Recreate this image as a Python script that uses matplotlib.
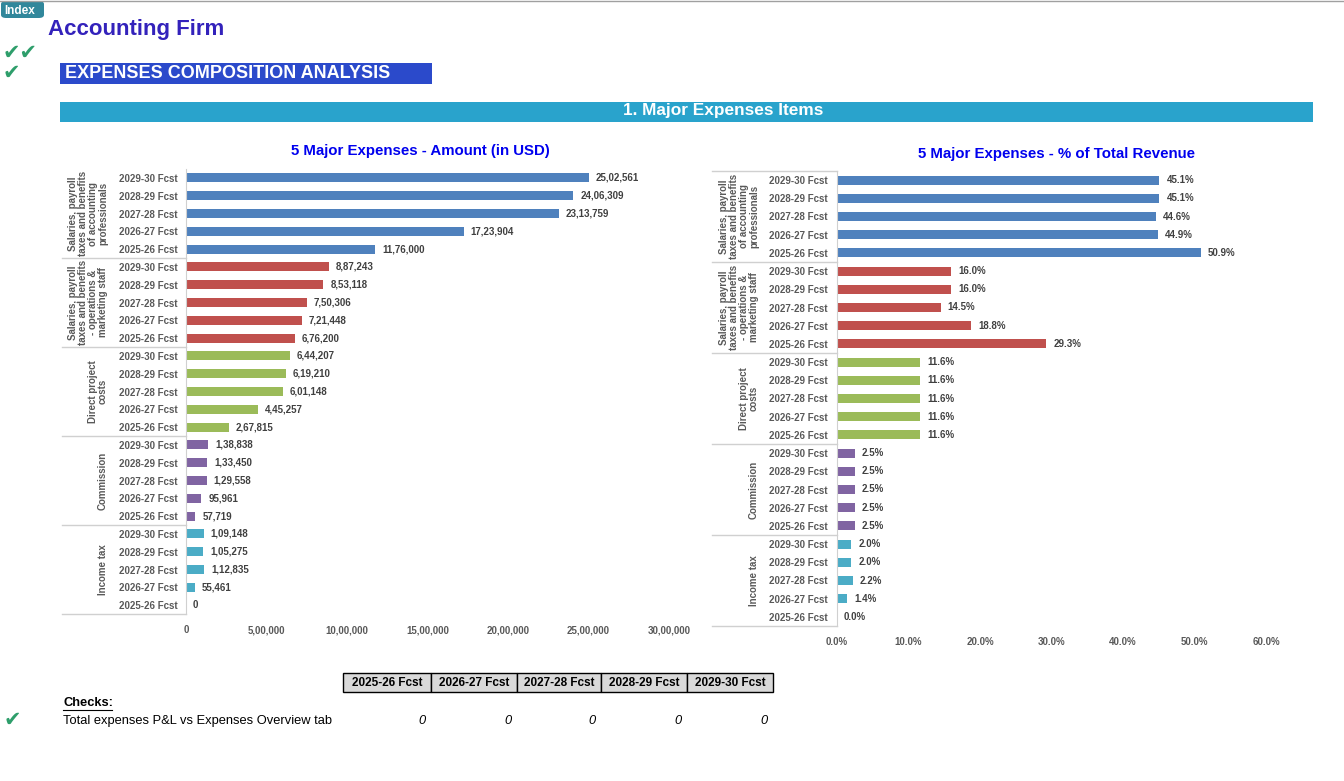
import matplotlib
matplotlib.use("Agg")
import matplotlib.pyplot as plt
from matplotlib.patches import Rectangle, FancyBboxPatch
from matplotlib.lines import Line2D
from matplotlib.ticker import FuncFormatter
from matplotlib.transforms import blended_transform_factory

plt.rcParams['font.family'] = ['Liberation Sans', 'DejaVu Sans']

# ---- data ----
years = ["2025-26 Fcst", "2026-27 Fcst", "2027-28 Fcst", "2028-29 Fcst", "2029-30 Fcst"]
groups = [
    "Salaries, payroll\ntaxes and benefits\nof accounting\nprofessionals",
    "Salaries, payroll\ntaxes and benefits\n- operations &\nmarketing staff",
    "Direct project\ncosts",
    "Commission",
    "Income tax",
]
colors = ["#4F81BD", "#C0504D", "#9BBB59", "#8064A2", "#4BACC6"]

# amounts in USD, ordered 2025-26 .. 2029-30
sal_acc_amt = [1176000, 1723904, 2313759, 2406309, 2502561]
sal_ops_amt = [676200, 721448, 750306, 853118, 887243]
direct_amt = [267815, 445257, 601148, 619210, 644207]
commission_amt = [57719, 95961, 129558, 133450, 138838]
income_tax_amt = [0, 55461, 112835, 105275, 109148]

# % of total revenue, ordered 2025-26 .. 2029-30
sal_acc_pct = [50.9, 44.9, 44.6, 45.1, 45.1]
sal_ops_pct = [29.3, 18.8, 14.5, 16.0, 16.0]
direct_pct = [11.6, 11.6, 11.6, 11.6, 11.6]
commission_pct = [2.5, 2.5, 2.5, 2.5, 2.5]
income_tax_pct = [0.0, 1.4, 2.2, 2.0, 2.0]

amounts = [sal_acc_amt, sal_ops_amt, direct_amt, commission_amt, income_tax_amt]
percents = [sal_acc_pct, sal_ops_pct, direct_pct, commission_pct, income_tax_pct]

check_values = [0, 0, 0, 0, 0]

W, H = 1344, 781
LABEL = "#404040"
TICK = "#595959"
LINE = "#D0D0D0"
GREEN = "#2E9E6B"


def inr(v, pos=None):
    s = str(int(round(v)))
    if len(s) <= 3:
        return s
    head, tail = s[:-3], s[-3:]
    parts = []
    while len(head) > 2:
        parts.insert(0, head[-2:])
        head = head[:-2]
    if head:
        parts.insert(0, head)
    return ",".join(parts) + "," + tail


def fx(px):
    return px / W


def fy(py):
    return 1 - py / H


def add_axes_px(left, top, right, bottom):
    return fig.add_axes([fx(left), fy(bottom), (right - left) / W, (bottom - top) / H])


def draw_chart(ax, data, xmax, step, fmt, label_fmt, sep_x0, grp_x, tick_pad, top_line):
    n = len(years)
    ypos, ylabels = [], []
    for g, vals in enumerate(data):
        ys = [g * n + (n - 1 - j) for j in range(n)]
        ax.barh(ys, vals, height=0.5, color=colors[g])
        for y, v in zip(ys, vals):
            ax.annotate(label_fmt(v), (v, y), xytext=(5, 0), textcoords="offset points",
                        va="center", ha="left", fontsize=7, fontweight="bold", color=LABEL)
        ypos += ys
        ylabels += [years[j] for j in range(n)]
    ax.set_ylim(len(groups) * n - 0.5, -0.5)
    ax.set_xlim(0, xmax)
    ax.set_yticks(ypos)
    ax.set_yticklabels(ylabels)
    ax.set_xticks([i * step for i in range(int(round(xmax / step)) + 1)])
    ax.xaxis.set_major_formatter(FuncFormatter(fmt))
    ax.tick_params(axis="y", length=0, pad=tick_pad, labelsize=7, labelcolor=TICK)
    ax.tick_params(axis="x", length=0, pad=8, labelsize=7, labelcolor=TICK)
    for lbl in ax.get_xticklabels() + ax.get_yticklabels():
        lbl.set_fontweight("bold")
    for s in ["top", "right", "bottom"]:
        ax.spines[s].set_visible(False)
    ax.spines["left"].set_color(LINE)

    tr = blended_transform_factory(ax.transAxes, ax.transData)
    bounds = [g * n - 0.5 for g in range(len(groups) + 1)]
    for i, b in enumerate(bounds):
        if i == 0 and not top_line:
            continue
        ax.add_line(Line2D([sep_x0, 0], [b, b], transform=tr, color=LINE, lw=1, clip_on=False))
    for g, name in enumerate(groups):
        ax.text(grp_x, g * n + (n - 1) / 2, name, transform=tr, rotation=90, ha="right",
                va="center", multialignment="center", fontsize=7, fontweight="bold",
                color=TICK, linespacing=1.0)


fig = plt.figure(figsize=(W / 100, H / 100), dpi=100)

# ---- header ----
fig.add_artist(Line2D([fx(0), fx(W)], [fy(0.5), fy(0.5)], color="#A0A0A0", lw=1))
fig.add_artist(FancyBboxPatch((fx(1), fy(18)), fx(43), 17 / H,
                              boxstyle="round,pad=0,rounding_size=0.004",
                              facecolor="#31879B", edgecolor="none"))
fig.text(fx(20), fy(10.5), "Index", ha="center", va="center", color="white",
         fontsize=8.5, fontweight="bold")
fig.text(fx(48), fy(29), "Accounting Firm", ha="left", va="center", color="#3322BB",
         fontsize=16, fontweight="bold")
fig.text(fx(3), fy(53), "\u2714\u2714", ha="left", va="center", color=GREEN,
         fontsize=15, family=["DejaVu Sans"])
fig.text(fx(3), fy(73), "\u2714", ha="left", va="center", color=GREEN,
         fontsize=15, family=["DejaVu Sans"])
fig.add_artist(Rectangle((fx(60), fy(84)), fx(372), 21 / H, facecolor="#2B4ACB",
                         edgecolor="none"))
fig.text(fx(65), fy(74), "EXPENSES COMPOSITION ANALYSIS", ha="left", va="center",
         color="white", fontsize=13, fontweight="bold")
fig.add_artist(Rectangle((fx(60), fy(122)), fx(1253), 20 / H, facecolor="#29A3CC",
                         edgecolor="none"))
fig.text(fx(723), fy(111), "1. Major Expenses Items", ha="center", va="center",
         color="white", fontsize=12.4, fontweight="bold")

fig.text(fx(420), fy(151), "5 Major Expenses - Amount (in USD)", ha="center", va="center",
         color="#0000EE", fontsize=10.8, fontweight="bold")
fig.text(fx(1057), fy(154), "5 Major Expenses - % of Total Revenue", ha="center",
         va="center", color="#0000EE", fontsize=10.8, fontweight="bold")

# ---- charts ----
ax1 = add_axes_px(186, 169, 669, 614)
draw_chart(ax1, amounts, 3000000, 500000, inr, inr,
           sep_x0=(62 - 186) / 483, grp_x=(108 - 186) / 483, tick_pad=6, top_line=False)

ax2 = add_axes_px(837, 171, 1266, 626)
draw_chart(ax2, percents, 60, 10, lambda v, p=None: f"{v:.1f}%", lambda v: f"{v:.1f}%",
           sep_x0=(712 - 837) / 429, grp_x=(759 - 837) / 429, tick_pad=7, top_line=True)

# ---- checks table ----
cell_edges = [343, 431, 517, 601, 687, 773]
for i, yr in enumerate(years):
    x0, x1 = cell_edges[i], cell_edges[i + 1]
    fig.add_artist(Rectangle((fx(x0), fy(692)), (x1 - x0) / W, 19 / H, facecolor="#D9D9D9",
                             edgecolor="black", lw=1))
    fig.text(fx((x0 + x1) / 2), fy(682.5), yr, ha="center", va="center", fontsize=8.5,
             fontweight="bold")
    fig.text(fx(x1 - 5), fy(721), str(check_values[i]), ha="right", va="center",
             fontsize=9.3, style="italic")

fig.text(fx(63), fy(703), "Checks:", ha="left", va="center", fontsize=9.3, fontweight="bold")
fig.add_artist(Line2D([fx(63), fx(112)], [fy(710), fy(710)], color="black", lw=0.8))
fig.text(fx(4), fy(720), "\u2714", ha="left", va="center", color=GREEN, fontsize=15,
         family=["DejaVu Sans"])
fig.text(fx(63), fy(721), "Total expenses P&L vs Expenses Overview tab", ha="left",
         va="center", fontsize=9.3)

fig.savefig("out.png", dpi=100)
